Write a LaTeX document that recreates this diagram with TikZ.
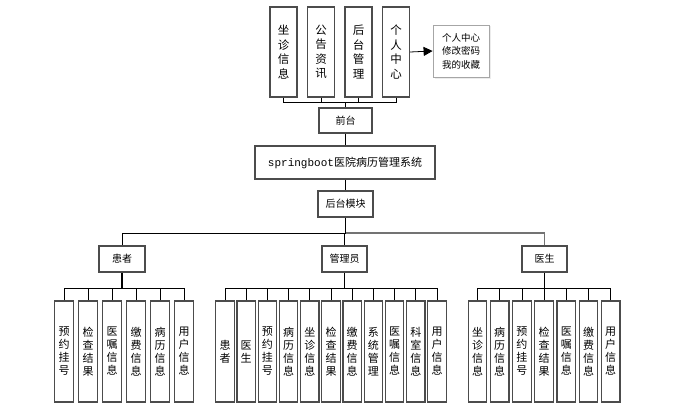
\documentclass[tikz,border=0pt]{standalone}
\usepackage{fontspec}
\setmainfont{Noto Sans CJK SC}
\newfontfamily\monofnt{Liberation Mono}
\usetikzlibrary{arrows.meta,shadows,calc}
\tikzset{
  box/.style={draw=black!70,line width=1.2pt,fill=white,inner sep=0pt,align=center},
  topbox/.style={box,minimum width=27pt,minimum height=90pt,font=\fontsize{11.5}{14.5}\selectfont},
  leafbox/.style={box,minimum width=18.5pt,minimum height=101pt,font=\fontsize{11}{13}\selectfont},
  midbox/.style={box,minimum height=26pt,font=\fontsize{10}{12}\selectfont},
  conn/.style={draw=black,line width=0.8pt},
  thickconn/.style={draw=black,line width=1.6pt},
  sidebox/.style={draw=black!35,line width=0.8pt,fill=white,align=center,inner sep=2pt,
    minimum width=56pt,minimum height=52pt,font=\fontsize{9.5}{13.5}\selectfont,
    drop shadow={shadow xshift=1.5pt,shadow yshift=-1.5pt,fill=black!15}}
}
\begin{document}
\begin{tikzpicture}[x=1pt,y=-1pt]
\useasboundingbox (0,0) rectangle (687,412);
% top row
\node[topbox] (t1) at (283.5,52) {坐\\诊\\信\\息};
\node[topbox] (t2) at (321,52) {公\\告\\资\\讯};
\node[topbox] (t3) at (358.5,52) {后\\台\\管\\理};
\node[topbox] (t4) at (396,52) {个\\人\\中\\心};
\node[sidebox] (side) at (461,51) {个人中心\\修改密码\\我的收藏};
\draw[conn,-{Triangle[length=9pt,width=9pt]}] (t4.east) -- (side.west);
% front
\node[midbox,minimum width=53pt,minimum height=25pt] (qt) at (345.5,120.5) {前台};
\coordinate (tb) at (345.5,102);
\draw[conn] (t1.south) -- (t1.south|-tb) -- (t4.south|-tb) -- (t4.south);
\draw[conn] (t2.south) -- (t2.south|-tb);
\draw[conn] (t3.south) -- (t3.south|-tb);
\draw[conn] (tb) -- (qt.north);
% system
\node[midbox,minimum width=180pt,minimum height=33pt,font=\fontsize{11}{13}\selectfont] (sys) at (345,162.5) {{\monofnt springboot}医院病历管理系统};
\node[midbox,minimum width=55pt] (hm) at (345.5,204) {后台模块};
\draw[conn] (qt.south) -- (qt.south|-sys.north);
\draw[conn] (sys.south-|hm.north) -- (hm.north);
% roles
\node[midbox,minimum width=46pt] (pat) at (122,259) {患者};
\node[midbox,minimum width=45pt] (adm) at (344.5,259) {管理员};
\node[midbox,minimum width=45pt] (doc) at (544.5,259) {医生};
\coordinate (mb) at (345.5,233);
\draw[conn] (hm.south) -- (mb);
\draw[conn] (pat.north) -- (pat.north|-mb) -- (mb);
\draw[draw=black!55,line width=1.2pt] (mb) -- (doc.north|-mb) -- (doc.north);
\draw[conn] (adm.north|-mb) -- (adm.north);
\coordinate (lb) at (0,288);
% patient leaves
\foreach \t [count=\i] in {{预\\约\\挂\\号},{检\\查\\结\\果},{医\\嘱\\信\\息},{缴\\费\\信\\息},{病\\历\\信\\息},{用\\户\\信\\息}}{
  \node[leafbox] (p\i) at ({64+24*(\i-1)},351.5) {\t};
  \draw[conn] (p\i.north) -- (p\i.north|-lb);
}
\draw[conn] (p1.north|-lb) -- (p6.north|-lb);
\draw[thickconn] (pat.south) -- (pat.south|-lb);
% admin leaves
\foreach \t [count=\i] in {{患\\者},{医\\生},{预\\约\\挂\\号},{病\\历\\信\\息},{坐\\诊\\信\\息},{检\\查\\结\\果},{缴\\费\\信\\息},{系\\统\\管\\理},{医\\嘱\\信\\息},{科\\室\\信\\息},{用\\户\\信\\息}}{
  \node[leafbox] (a\i) at ({225+21.2*(\i-1)},351.5) {\t};
  \draw[conn] (a\i.north) -- (a\i.north|-lb);
}
\draw[conn] (a1.north|-lb) -- (a11.north|-lb);
\draw[thickconn] (adm.south) -- (adm.south|-lb);
% doctor leaves
\foreach \t [count=\i] in {{坐\\诊\\信\\息},{病\\历\\信\\息},{预\\约\\挂\\号},{检\\查\\结\\果},{医\\嘱\\信\\息},{缴\\费\\信\\息},{用\\户\\信\\息}}{
  \node[leafbox] (d\i) at ({477.5+22.2*(\i-1)},351.5) {\t};
  \draw[conn] (d\i.north) -- (d\i.north|-lb);
}
\draw[conn] (d1.north|-lb) -- (d7.north|-lb);
\draw[thickconn] (doc.south) -- (doc.south|-lb);
\end{tikzpicture}
\end{document}
